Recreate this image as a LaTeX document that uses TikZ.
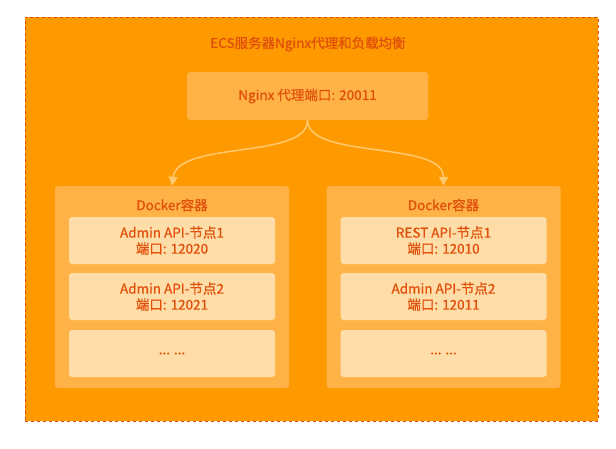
\documentclass[tikz,border=0pt]{standalone}
\usepackage{fontspec}
\setmainfont{Noto Sans CJK SC}[FakeBold=0.8]
\usetikzlibrary{arrows.meta}
\definecolor{bgo}{HTML}{FF9900}
\definecolor{midb}{HTML}{FFB347}
\definecolor{inb}{HTML}{FFDDA8}
\definecolor{txt}{HTML}{E0500A}
\definecolor{arr}{HTML}{FFC970}
\begin{document}
\begin{tikzpicture}[x=1pt,y=-1pt,
  box/.style={rounded corners=3pt,inner sep=0pt,font=\fontsize{13.5}{16}\selectfont,text=txt,align=center},
  mid/.style={box,fill=midb},
  inn/.style={box,fill=inb},
  link/.style={draw=arr,line width=1.5pt,-{Triangle[length=9pt,width=9pt]}}]
\useasboundingbox (0,0) rectangle (616,448);
\node[draw=txt,fill=bgo,dashed,line width=0.8pt,minimum width=573pt,minimum height=404pt,inner sep=0pt] (outer) at (311.5,219) {};
\node[text=txt,font=\fontsize{13.5}{16}\selectfont] (title) at (308,44) {ECS服务器Nginx代理和负载均衡};
\node[mid,minimum width=241pt,minimum height=48pt] (ng) at (307.5,96) {Nginx 代理端口: 20011};
\foreach \n/\cx/\a/\b in {L/172/Admin API-节点1/12020, R/443.5/REST API-节点1/12010}{
  \node[mid,minimum width=234pt,minimum height=202pt] (d\n) at (\cx,287) {};
  \node[text=txt,font=\fontsize{13.5}{16}\selectfont] (t\n) at (\cx,205) {Docker容器};
  \node[inn,minimum width=206pt,minimum height=47pt] (a\n) at (\cx,240.5) {\a\\端口: \b};
  \node[inn,minimum width=206pt,minimum height=47pt] (c\n) at (\cx,353.5) {... ...};
}
\node[inn,minimum width=206pt,minimum height=47pt] (bL) at (172,296.5) {Admin API-节点2\\端口: 12021};
\node[inn,minimum width=206pt,minimum height=47pt] (bR) at (443.5,296.5) {Admin API-节点2\\端口: 12011};
\draw[link] (ng.south) .. controls (308,160) and (178,140) .. (dL.north);
\draw[link] (ng.south) .. controls (308,160) and (443.5,140) .. (dR.north);
\end{tikzpicture}
\end{document}
